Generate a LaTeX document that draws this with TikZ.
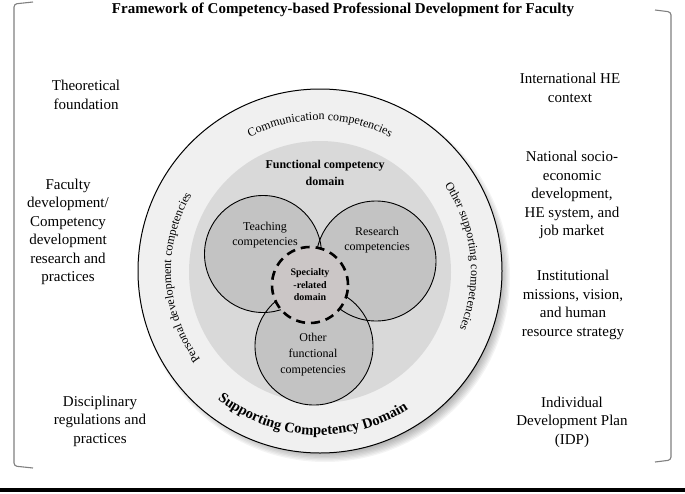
\documentclass[tikz,border=0pt]{standalone}
\usepackage{fontspec}
\setmainfont{Liberation Serif}
\usetikzlibrary{decorations.text}
\definecolor{ringfill}{HTML}{F0F0F0}
\definecolor{funcfill}{HTML}{D9D9D9}
\definecolor{subfill}{HTML}{C3C3C3}
\definecolor{specfill}{HTML}{CBC6C6}
\definecolor{brk}{HTML}{808080}
\begin{document}
\begin{tikzpicture}[x=1pt,y=1pt,
  side/.style={align=center,font=\fontsize{15}{18.5}\selectfont,inner sep=0pt},
  sub/.style={align=center,font=\fontsize{12}{15.5}\selectfont,inner sep=0pt},
  subcircle/.style={draw=black,line width=0.9pt},
  bracket/.style={draw=brk,line width=1.1pt,rounded corners=3pt}]
\useasboundingbox (0,0) rectangle (685,-493);
% title
\node[anchor=base,font=\fontsize{15}{18}\selectfont\bfseries,inner sep=0pt] (title) at (343,-13)
  {Framework of Competency-based Professional Development for Faculty};
% brackets
\draw[bracket] (33,-2) -- (14,-4) -- (14,-466) -- (33,-468);
\draw[bracket] (655,-10) -- (671,-12) -- (671,-460) -- (655,-462);
% bottom rule
\fill[black] (0,-488) rectangle (685,-492);
% shadow
\foreach \k in {1,...,10}
  \fill[black,opacity=0.045] (325,-277) circle ({172+\k*1.3});
% outer disc
\draw[fill=ringfill,line width=1pt] (320,-271) circle (182);
% functional disc
\fill[funcfill] (320,-272) circle (131);
% sub circles
\fill[subfill] (263,-254) circle (58.5);
\fill[subfill] (376,-261) circle (60);
\fill[subfill] (314,-346) circle (59);
\draw[subcircle] (263,-254) circle (58.5);
\draw[subcircle] (376,-261) circle (60);
\draw[subcircle] (314,-346) circle (59);
% specialty
\draw[fill=specfill,line width=2.6pt,dash pattern=on 9pt off 6pt] (310,-285) circle (38);
% texts in circles
\node[align=center,font=\fontsize{12}{17}\selectfont\bfseries,inner sep=0pt] (func) at (325,-173)
  {Functional competency\\domain};
\node[sub] (teach) at (265,-235) {Teaching\\competencies};
\node[sub] (res) at (377,-240) {Research\\competencies};
\node[align=center,font=\fontsize{12}{16}\selectfont,inner sep=0pt] (oth) at (313,-355)
  {Other\\functional\\competencies};
\node[align=center,font=\fontsize{10}{12.5}\selectfont\bfseries,inner sep=0pt] (spec) at (310,-285)
  {Specialty\\-related\\domain};
% curved texts
\path[decorate,decoration={text along path,text align=center,
  text={|\fontsize{12}{14}\selectfont|Communication competencies}}]
  (320,-271) ++(130:151) arc[start angle=130,end angle=50,radius=151];
\path[decorate,decoration={text along path,text align=center,
  text={|\fontsize{12}{14}\selectfont|Other supporting competencies}}]
  (320,-271) ++(46:151) arc[start angle=46,end angle=-34,radius=151];
\path[decorate,decoration={text along path,text align=center,
  text={|\fontsize{12}{14}\selectfont|Personal development competencies}}]
  (320,-271) ++(228:149) arc[start angle=228,end angle=138,radius=149];
\path[decorate,decoration={text along path,text align=center,
  text={|\fontsize{14.5}{17}\selectfont\bfseries|Supporting Competency Domain}}]
  (320,-271) ++(222:164) arc[start angle=222,end angle=312,radius=164];
% side texts
\node[side] (theo) at (86,-95) {Theoretical\\foundation};
\node[side] (fac) at (68,-232) {Faculty\\development/\\Competency\\development\\research and\\practices};
\node[side] (disc) at (100,-421) {Disciplinary\\regulations and\\practices};
\node[side] (intl) at (570,-88) {International HE\\context};
\node[side] (nat) at (572,-195) {National socio-\\economic\\development,\\HE system, and\\job market};
\node[side] (inst) at (573,-305) {Institutional\\missions, vision,\\and human\\resource strategy};
\node[side] (idp) at (572,-422) {Individual\\Development Plan\\(IDP)};
\end{tikzpicture}
\end{document}
